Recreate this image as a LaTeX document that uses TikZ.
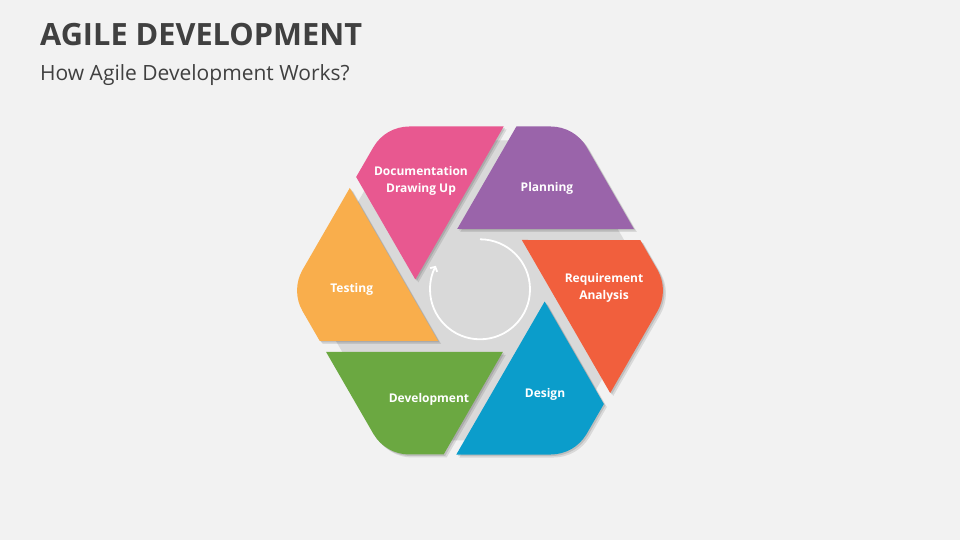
\documentclass[tikz,border=0pt]{standalone}
\usepackage{fontspec}
\setmainfont{Open Sans}
\IfFontExistsTF{Open Sans SemiBold}{\newfontfamily\labfont{Open Sans SemiBold}}{\newfontfamily\labfont{Open Sans Bold}}
\usetikzlibrary{arrows.meta}
\definecolor{bg}{HTML}{F2F2F2}
\definecolor{ttl}{HTML}{404040}
\definecolor{hexg}{HTML}{D9D9D9}
\definecolor{cpink}{HTML}{E85890}
\definecolor{cpurple}{HTML}{9A64AA}
\definecolor{cred}{HTML}{F15F3D}
\definecolor{cblue}{HTML}{0B9DCB}
\definecolor{cgreen}{HTML}{6BA841}
\definecolor{cyellow}{HTML}{F9AE4C}
\begin{document}
\begin{tikzpicture}[x=1pt,y=1pt,
  piece/.style={insert path={(-22.8,61.5) -- (36.4,164) -- (70.7,164) arc[start angle=90,end angle=30,radius=41.57] -- (153.9,61.5) -- cycle}},
  lab/.style={text=white,font=\labfont\fontsize{12}{17}\selectfont,align=center,inner sep=0}]
\fill[bg] (0,0) rectangle (960,540);
\useasboundingbox (0,0) rectangle (960,540);
\node[anchor=base west, text=ttl, font=\bfseries\fontsize{30.7}{36}\selectfont, inner sep=0] (title) at (40,494) {AGILE DEVELOPMENT};
\node[anchor=base west, text=ttl, font=\fontsize{21}{25}\selectfont, inner sep=0] (sub) at (40,459) {How Agile Development Works?};
\begin{scope}[shift={(480,249.5)}]
\fill[hexg, rounded corners=18pt] (30:150) -- (60:173.2) -- (120:173.2) -- (180:173.2) -- (240:173.2) -- (300:173.2) -- (360:173.2) -- cycle;
\end{scope}
\foreach \a in {0,60,...,300}{
  \fill[black,opacity=0.10,shift={(483,246.5)},rotate=\a,piece];
  \fill[black,opacity=0.12,shift={(481.5,248)},rotate=\a,piece];
}
\foreach \a/\c in {0/cpurple,60/cpink,120/cyellow,180/cgreen,240/cblue,300/cred}{
  \fill[\c,shift={(480,249.5)},rotate=\a,piece];
}
\draw[white, line width=1.8pt, -{Straight Barb[length=3.5pt,width=8pt]}] (480,250.7) ++(90:50) arc[start angle=90,end angle=-208,radius=50];
\node[lab] (doc) at (421,359.5) {Documentation\\Drawing Up};
\node[lab] (plan) at (547,351.7) {Planning};
\node[lab] (req) at (604,252) {Requirement\\Analysis};
\node[lab] (des) at (545,145.7) {Design};
\node[lab] (dev) at (429,140.7) {Development};
\node[lab] (tst) at (351.7,250.7) {Testing};
\end{tikzpicture}
\end{document}
